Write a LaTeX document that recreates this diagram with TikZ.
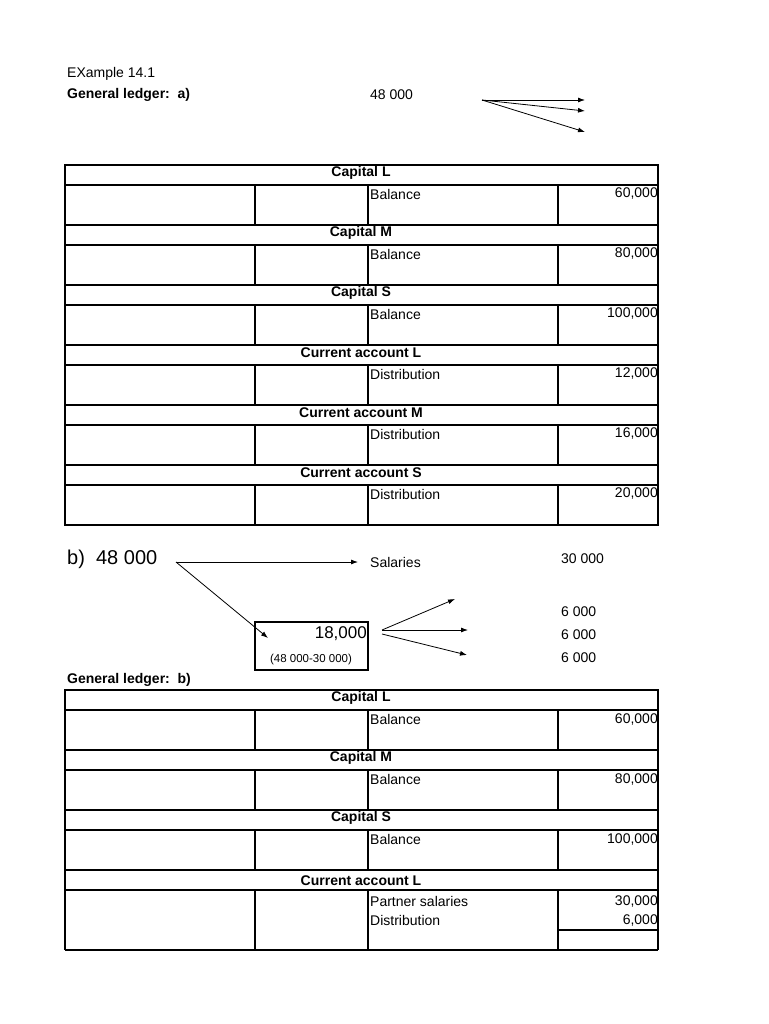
\documentclass[tikz,border=0pt]{standalone}
\usepackage{fontspec}
\setmainfont{Liberation Sans}
\usetikzlibrary{arrows.meta}
\begin{document}
\begin{tikzpicture}[x=1pt,y=-1pt,
  txt/.style={anchor=west,inner sep=0pt,font=\fontsize{14}{16}\selectfont},
  num/.style={anchor=east,inner sep=0pt,font=\fontsize{14}{16}\selectfont},
  hd/.style={anchor=center,inner sep=0pt,font=\fontsize{14}{16}\selectfont\bfseries},
  big/.style={inner sep=0pt,font=\fontsize{20}{22}\selectfont},
  arr/.style={-{Latex[length=7pt,width=5pt]},line width=0.8pt},
  grid/.style={line width=1.2pt},
  thick2/.style={line width=2.2pt}]
\useasboundingbox (0,0) rectangle (768,1024);
\fill[white] (0,0) rectangle (768,1024);
% header texts
\node[txt] (ex) at (67,74) {EXample 14.1};
\node[txt,font=\fontsize{14}{16}\selectfont\bfseries] (gla) at (67,95) {General ledger:\ \ a)};
\node[txt] (n48) at (370,95) {48 000};
\coordinate (s0) at (482,100);
\coordinate (t1) at (585,100);
\coordinate (t2) at (585,111);
\coordinate (t3) at (585,132);
\draw[arr] (s0) -- (t1); \draw[arr] (s0) -- (t2); \draw[arr] (s0) -- (t3);
% table a
\foreach \t/\d/\v [count=\i from 0] in {Capital L/Balance/60{,}000,Capital M/Balance/80{,}000,Capital S/Balance/100{,}000,Current account L/Distribution/12{,}000,Current account M/Distribution/16{,}000,Current account S/Distribution/20{,}000}{
  \pgfmathsetmacro{\y}{165+60*\i}
  \draw[grid] (65,\y) rectangle (658,\y+60);
  \draw[grid] (65,\y+20) -- (658,\y+20);
  \draw[grid] (255,\y+20) -- (255,\y+60);
  \draw[thick2] (368,\y+20) -- (368,\y+60);
  \draw[grid] (558,\y+20) -- (558,\y+60);
  \node[hd] (ha\i) at (361,\y+8) {\t};
  \node[txt] (da\i) at (370,\y+29) {\d};
  \node[num] (va\i) at (658,\y+29) {\v};
}
% part b
\node[big,anchor=west] (b48) at (67,559) {b)\ \ 48 000};
\node[txt] (sal) at (370,562) {Salaries};
\node[txt] (n30) at (561,559) {30 000};
\node[txt] (n6a) at (561,612) {6 000};
\node[txt] (n6b) at (561,635) {6 000};
\node[txt] (n6c) at (561,658) {6 000};
\draw[line width=1.2pt] (255,622) rectangle (368,670);
\node[inner sep=0pt,anchor=east,font=\fontsize{17}{19}\selectfont] (n18) at (367,634) {18,000};
\node[inner sep=0pt,font=\fontsize{11.5}{13}\selectfont] (calc) at (311,660) {(48 000-30 000)};
\coordinate (bs) at (176,562);
\draw[arr] (bs) -- (358,562);
\draw[arr] (bs) -- (268,638);
\coordinate (cs) at (382,630);
\draw[arr] (cs) -- (455,599);
\draw[arr] (cs) -- (468,630);
\draw[arr] (382,634) -- (467,655);
\node[txt,font=\fontsize{14}{16}\selectfont\bfseries] (glb) at (67,680) {General ledger:\ \ b)};
% table b
\foreach \t [count=\i from 0] /\v in {Capital L/60{,}000,Capital M/80{,}000,Capital S/100{,}000}{
  \pgfmathsetmacro{\y}{690+60*\i}
  \draw[grid] (65,\y) rectangle (658,\y+60);
  \draw[grid] (65,\y+20) -- (658,\y+20);
  \draw[grid] (255,\y+20) -- (255,\y+60);
  \draw[thick2] (368,\y+20) -- (368,\y+60);
  \draw[grid] (558,\y+20) -- (558,\y+60);
  \node[hd] (hb\i) at (361,\y+8) {\t};
  \node[txt] (db\i) at (370,\y+29) {Balance};
  \node[num] (vb\i) at (658,\y+29) {\v};
}
\draw[grid] (65,870) -- (658,870);
\draw[grid] (65,890) -- (658,890);
\draw[grid] (65,870) -- (65,950);
\draw[grid] (658,870) -- (658,950);
\draw[grid] (65,950) -- (658,950);
\draw[grid] (255,890) -- (255,950);
\draw[thick2] (368,890) -- (368,950);
\draw[grid] (558,890) -- (558,950);
\draw[grid] (558,930) -- (658,930);
\node[hd] (hb3) at (361,881) {Current account L};
\node[txt] (db3a) at (370,901) {Partner salaries};
\node[txt] (db3b) at (370,920) {Distribution};
\node[num] (vb3a) at (658,901) {30,000};
\node[num] (vb3b) at (658,920) {6,000};
\end{tikzpicture}
\end{document}
